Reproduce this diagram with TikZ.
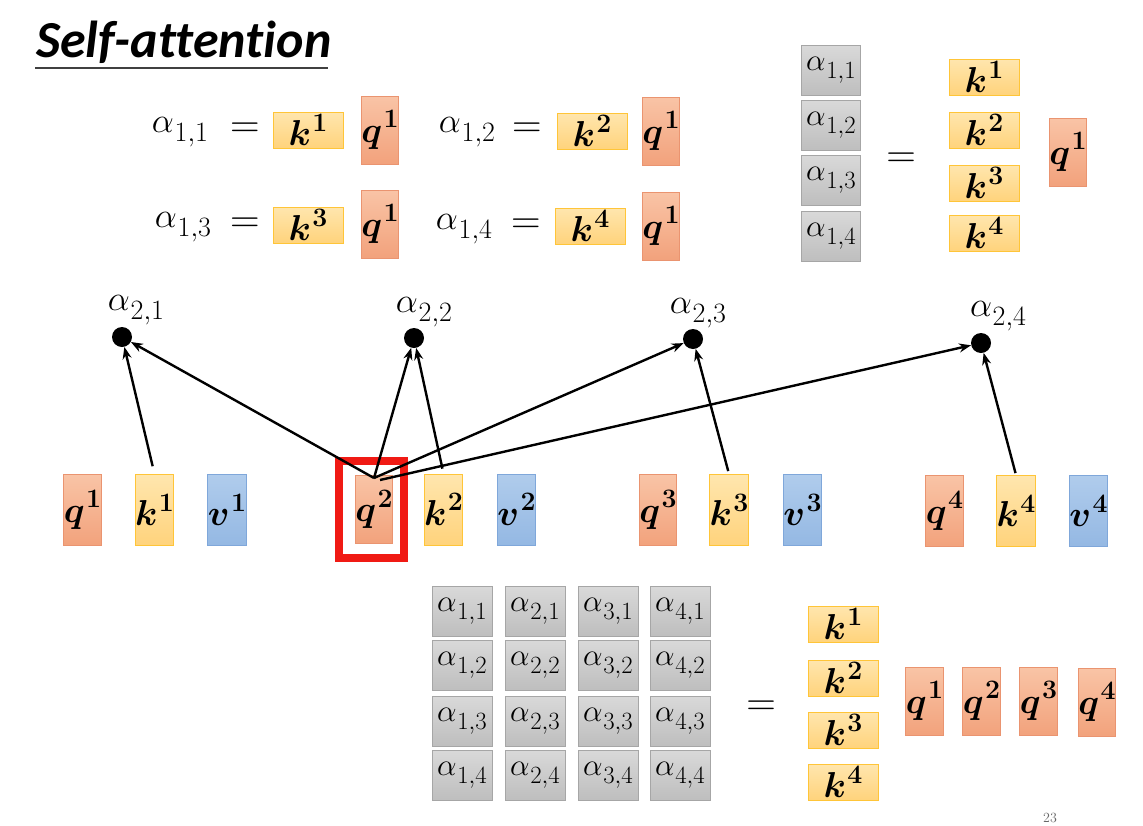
\RequirePackage{fix-cm}
\documentclass[tikz,border=0pt]{standalone}
\usepackage{amsmath}
\usepackage[no-math]{fontspec}
\newfontfamily\titlefont[Ligatures=NoCommon]{Carlito}
\usetikzlibrary{arrows.meta,shadings}
\newcommand\alsub[2]{$\alpha$\kern0.02em\raisebox{-0.27em}{\scalebox{0.8}{$#1,\!#2$}}}
\newcommand\bsup[2]{$\boldsymbol{#1}$\kern0.04em\raisebox{0.40em}{\scalebox{0.74}{$\mathbf{#2}$}}}
\definecolor{qtop}{HTML}{F9C4A6}
\definecolor{qbot}{HTML}{F2A27C}
\definecolor{qline}{HTML}{EA9470}
\definecolor{ktop}{HTML}{FFE6AE}
\definecolor{kbot}{HTML}{FFD37C}
\definecolor{kline}{HTML}{FFC538}
\definecolor{vtop}{HTML}{B0CCEC}
\definecolor{vbot}{HTML}{94B8E3}
\definecolor{vline}{HTML}{7FA7DA}
\definecolor{gtop}{HTML}{D9D9D9}
\definecolor{gbot}{HTML}{BEBEBE}
\definecolor{gline}{HTML}{A6A6A6}
\definecolor{hired}{HTML}{F01A14}
\tikzset{
  boxbase/.style={draw, line width=1, inner sep=0, font=\fontsize{36}{40}\selectfont},
  qb/.style={boxbase, draw=qline, top color=qtop, bottom color=qbot, minimum width=37, minimum height=68},
  kb/.style={boxbase, draw=kline, top color=ktop, bottom color=kbot, minimum width=70, minimum height=36},
  ktall/.style={boxbase, draw=kline, top color=ktop, bottom color=kbot, minimum width=37, minimum height=71},
  qtall/.style={qb, minimum height=71},
  vtall/.style={boxbase, draw=vline, top color=vtop, bottom color=vbot, minimum width=37, minimum height=71},
  gb/.style={draw=gline, line width=1, inner sep=0, top color=gtop, bottom color=gbot, minimum width=59, minimum height=50, font=\fontsize{31}{40}\selectfont},
  altext/.style={inner sep=0, font=\fontsize{35}{44}\selectfont},
  eqtext/.style={inner sep=0, font=\fontsize{41}{44}\selectfont},
  dotnode/.style={circle, fill=black, minimum size=20, inner sep=0},
  arr/.style={line width=2.4, -{Stealth[length=12, width=9]}},
}
\begin{document}
\begin{tikzpicture}[x=1pt,y=-1pt]
\useasboundingbox[fill=white] (0,0) rectangle (1143,825);
% title
\node[anchor=base west, inner sep=0, font=\titlefont\bfseries\itshape\fontsize{52}{56}\selectfont] (title) at (36,57) {Self-attention};
\draw[line width=2.5, color=black!75] (35,68) -- (328,68);

% top equations
\node[altext] (a11) at (180,132) {\alsub11};
\node[eqtext] (e1) at (245,130) {$=$};
\node[kb] (tk1) at (308,130) {\bsup k1};
\node[qb] (tq1) at (380,130) {\bsup q1};
\node[altext] (a12) at (467,132) {\alsub12};
\node[eqtext] (e2) at (527,130) {$=$};
\node[kb] (tk2) at (592,131) {\bsup k2};
\node[qb] (tq2) at (661,131) {\bsup q1};

\node[altext] (a13) at (183,227) {\alsub13};
\node[eqtext] (e3) at (245,225) {$=$};
\node[kb] (tk3) at (308,225) {\bsup k3};
\node[qb] (tq3) at (380,224) {\bsup q1};
\node[altext] (a14) at (464,229) {\alsub14};
\node[eqtext] (e4) at (526,226) {$=$};
\node[kb] (tk4) at (590,226) {\bsup k4};
\node[qb] (tq4) at (661,226) {\bsup q1};

% top right
\node[gb] (g1) at (831,70) {\alsub11};
\node[gb] (g2) at (831,125) {\alsub12};
\node[gb] (g3) at (831,180) {\alsub13};
\node[gb] (g4) at (831,236) {\alsub14};
\node[eqtext] (e5) at (901,160) {$=$};
\node[kb] (rk1) at (984,77) {\bsup k1};
\node[kb] (rk2) at (984,130) {\bsup k2};
\node[kb] (rk3) at (984,183) {\bsup k3};
\node[kb] (rk4) at (984,233) {\bsup k4};
\node[qb] (rq1) at (1068,152) {\bsup q1};

% middle row
\node[qtall] (q1) at (82.5,510) {\bsup q1};
\node[ktall] (k1) at (154.5,510) {\bsup k1};
\node[vtall] (v1) at (227,510) {\bsup v1};
\node[qb] (q2) at (374,509.5) {\bsup q2};
\node[ktall] (k2) at (443.5,509.5) {\bsup k2};
\node[vtall] (v2) at (516.5,509.5) {\bsup v2};
\node[qtall] (q3) at (658,510) {\bsup q3};
\node[ktall] (k3) at (729,510) {\bsup k3};
\node[vtall] (v3) at (802.5,510) {\bsup v3};
\node[qtall] (q4) at (944.5,511) {\bsup q4};
\node[ktall] (k4) at (1016,511) {\bsup k4};
\node[vtall] (v4) at (1088.5,511) {\bsup v4};
\node[draw=hired, line width=8, minimum width=65, minimum height=97, inner sep=0] (hl) at (371.5,509.5) {};

% dots
\node[dotnode] (d1) at (122,337) {};
\node[dotnode] (d2) at (414,338) {};
\node[dotnode] (d3) at (693,339) {};
\node[dotnode] (d4) at (981,343) {};
\node[altext] (l1) at (136,310) {\alsub21};
\node[altext] (l2) at (424,312) {\alsub22};
\node[altext] (l3) at (698,313) {\alsub23};
\node[altext] (l4) at (998,316) {\alsub24};

% arrows
\coordinate (qs) at ([yshift=-3]q2.north);
\coordinate (qs4) at ([xshift=6,yshift=-5]q2.north);
\draw[arr, shorten <=8] (k1.north) -- (d1);
\draw[arr] (qs) -- (d1);
\draw[arr] (qs) -- (d2);
\draw[arr, shorten <=5] (k2.north) -- (d2);
\draw[arr] (qs) -- (d3);
\draw[arr, shorten <=3] (k3.north) -- (d3);
\draw[arr] (qs4) -- (d4);
\draw[arr, shorten <=2] (k4.north) -- (d4);

% bottom matrix
\foreach \c/\x in {1/462,2/535,3/608,4/680}{
  \foreach \r/\y in {1/611,2/665,3/721,4/775}{
    \node[gb, minimum width=60] (m\c\r) at (\x,\y) {\alsub{\c}{\r}};
  }
}
\node[eqtext] (e6) at (761,708) {$=$};
\node[kb] (bk1) at (843,624) {\bsup k1};
\node[kb] (bk2) at (843,678) {\bsup k2};
\node[kb] (bk3) at (843,730) {\bsup k3};
\node[kb] (bk4) at (843,782) {\bsup k4};
\node[qb] (bq1) at (924.5,701) {\bsup q1};
\node[qb] (bq2) at (981.5,701) {\bsup q2};
\node[qb] (bq3) at (1038.5,701) {\bsup q3};
\node[qb] (bq4) at (1097,702) {\bsup q4};

% page number
\node[anchor=south, inner sep=0, text=black!60, font=\fontsize{14}{16}\selectfont] (pg) at (1050,823) {23};
\end{tikzpicture}
\end{document}
